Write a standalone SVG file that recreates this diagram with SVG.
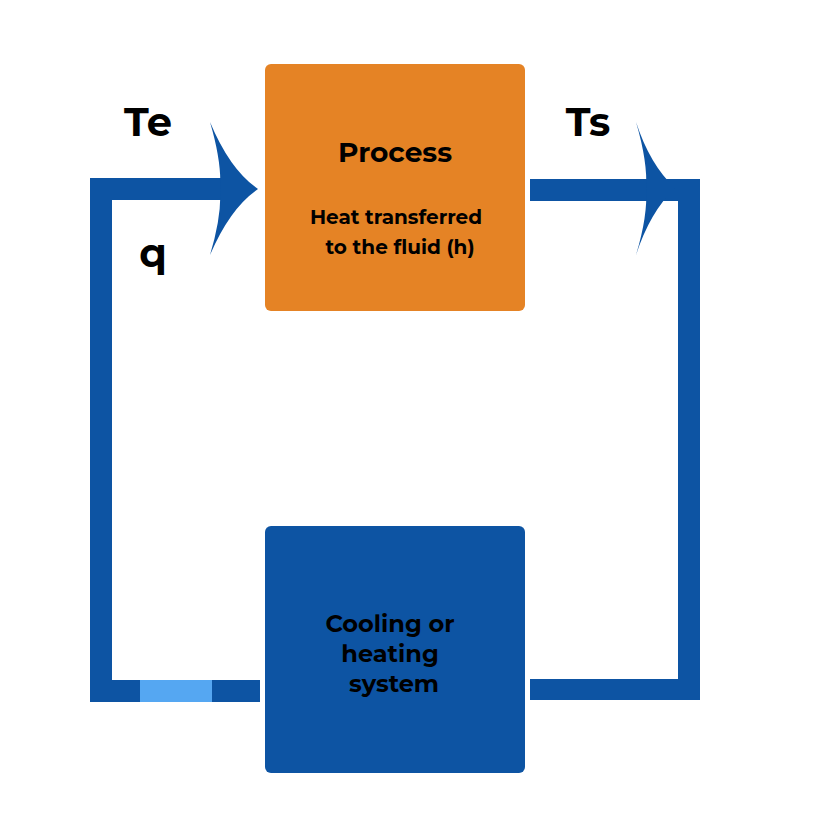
<svg xmlns="http://www.w3.org/2000/svg" width="820" height="820" viewBox="0 0 820 820">
<style>
.t{font-family:"Montserrat","Inter","Liberation Sans",sans-serif;font-weight:bold;fill:#000}
.pipe{fill:#0d54a3}
</style>
<rect width="820" height="820" fill="#fff"/>
<g id="connectors">
<path class="pipe" d="M90,178 H240 V200 H112 V680 H260 V702 H90 Z"/>
<rect x="140" y="680" width="72" height="22" fill="#55a7f2"/>
<path class="pipe" d="M210,122 Q230,170 258,189 Q230,208 210,255 Q222,215 220,189 Q222,163 210,122 Z"/>
<path class="pipe" d="M530,179 H700 V700 H530 V679 H678 V201 H530 Z"/>
<path class="pipe" d="M636,122 Q650,165 675,188 Q650,212 636,255 Q648,215 646,189 Q648,163 636,122 Z"/>
</g>
<g id="process">
<rect x="265" y="64" width="260" height="247" rx="6" fill="#e58325"/>
<text class="t" x="395" y="162" font-size="28" text-anchor="middle">Process</text>
<text class="t" x="396" y="224" font-size="20" text-anchor="middle">Heat transferred</text>
<text class="t" x="400" y="254" font-size="20" text-anchor="middle">to the fluid (h)</text>
</g>
<g id="system">
<rect x="265" y="526" width="260" height="247" rx="6" fill="#0d54a3"/>
<text class="t" x="390" y="632" font-size="24" text-anchor="middle">Cooling or</text>
<text class="t" x="390" y="662" font-size="24" text-anchor="middle">heating</text>
<text class="t" x="394" y="692" font-size="24" text-anchor="middle">system</text>
</g>
<g id="labels">
<text class="t" x="148" y="136" font-size="40" text-anchor="middle">Te</text>
<text class="t" x="153" y="267" font-size="40" text-anchor="middle">q</text>
<text class="t" x="588" y="136" font-size="40" text-anchor="middle">Ts</text>
</g>
</svg>
